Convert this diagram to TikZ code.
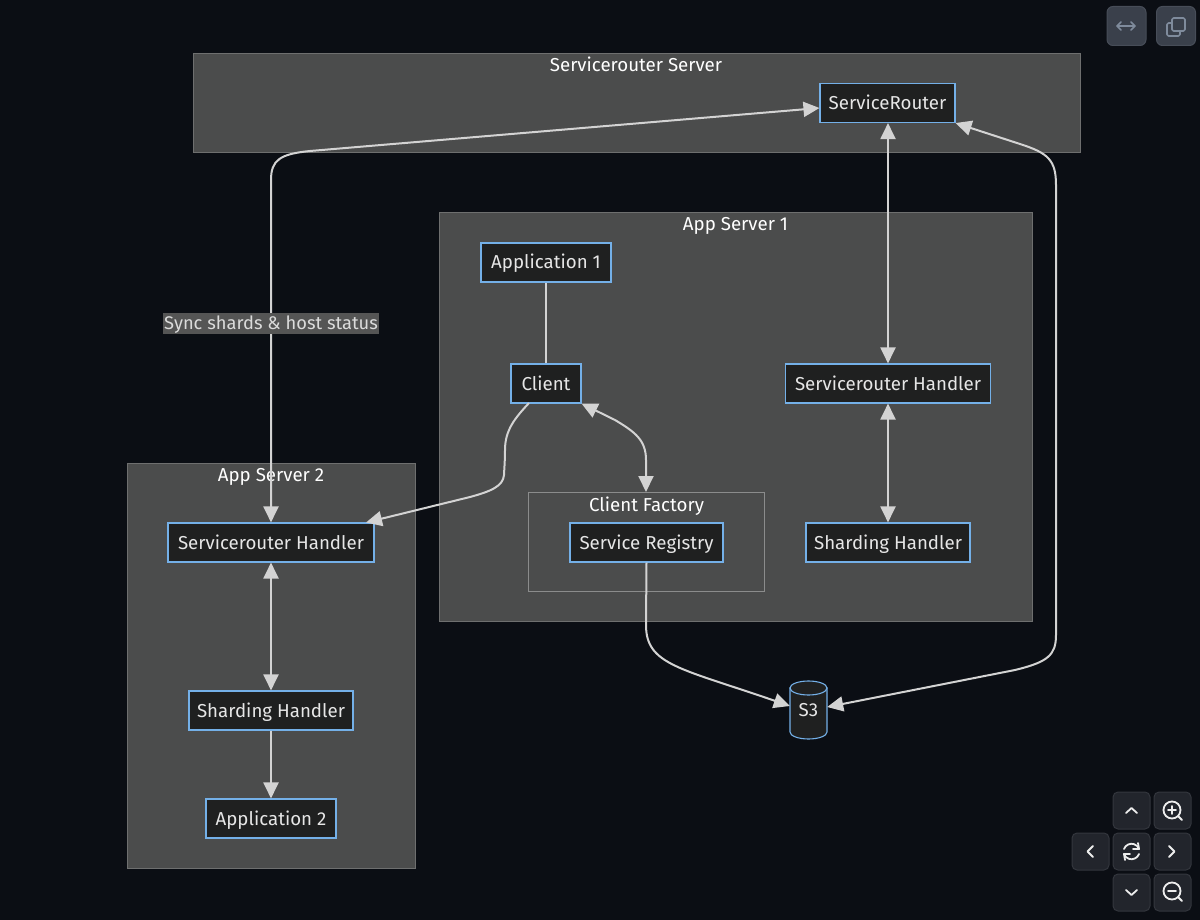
\documentclass[tikz,border=0pt]{standalone}
\usepackage{fontspec}
\setmainfont{Fira Sans}
\usetikzlibrary{arrows.meta}
\definecolor{bgc}{HTML}{0B0E14}
\definecolor{clusterc}{HTML}{4B4C4C}
\definecolor{clusterb}{HTML}{6E6F6F}
\definecolor{boxc}{HTML}{1F2020}
\definecolor{boxb}{HTML}{74B0E8}
\definecolor{linkc}{HTML}{D3D3D3}
\definecolor{textc}{HTML}{E6E6E6}
\definecolor{labelc}{HTML}{555555}
\definecolor{btnA}{HTML}{3A404B}
\definecolor{btnAb}{HTML}{474D58}
\definecolor{iconA}{HTML}{7F8B9C}
\definecolor{btnB}{HTML}{22252C}
\definecolor{btnBb}{HTML}{33363D}
\definecolor{iconB}{HTML}{EDEDED}
\tikzset{
  x=1pt,y=-1pt,
  txt/.style={font=\fontsize{18.7}{20}\selectfont,text=textc,text height=13pt,text depth=0pt},
  cluster/.style={draw=clusterb,fill=clusterc,line width=1pt,inner sep=0pt},
  clustertitle/.style={txt,text=white,inner sep=0pt},
  box/.style={draw=boxb,fill=boxc,line width=1.1pt,txt,inner sep=0pt,minimum height=39pt},
  link/.style={draw=linkc,line width=2pt},
  tip/.style={-{Triangle[length=16pt,width=15pt,fill=linkc]}},
  tips/.style={{Triangle[length=16pt,width=15pt,fill=linkc]}-{Triangle[length=16pt,width=15pt,fill=linkc]}},
  btna/.style={draw=btnAb,fill=btnA,rounded corners=6pt,line width=1pt,minimum size=39pt,inner sep=0pt},
  btnb/.style={draw=btnBb,fill=btnB,rounded corners=5pt,line width=1pt,minimum size=37pt,inner sep=0pt},
  icona/.style={draw=iconA,line width=1.6pt,line cap=round,line join=round},
  iconb/.style={draw=iconB,line width=1.8pt,line cap=round,line join=round},
}
\begin{document}
\begin{tikzpicture}
\useasboundingbox (0,0) rectangle (1200,920);
\fill[bgc] (0,0) rectangle (1200,920);
% clusters
\node[cluster,minimum width=887pt,minimum height=99pt] (cSR) at (636.5,103) {};
\node[clustertitle] (tSR) at (636,65) {Servicerouter Server};
\node[cluster,minimum width=593pt,minimum height=409pt] (cA1) at (735.5,417) {};
\node[clustertitle] (tA1) at (735.5,224) {App Server 1};
\node[cluster,minimum width=288pt,minimum height=405pt] (cA2) at (271,665.5) {};
\node[clustertitle] (tA2) at (271,474.5) {App Server 2};
\node[cluster,draw=clusterb!80!white,minimum width=236pt,minimum height=99pt] (cCF) at (646.5,542) {};
\node[clustertitle] (tCF) at (646.5,504.5) {Client Factory};
% S3 body
\draw[draw=boxb,fill=boxc,line width=1.1pt] (790,688) -- (790,732) arc[start angle=180,end angle=0,x radius=18.5,y radius=7] -- (827,688) -- cycle;
\draw[draw=boxb,fill=boxc,line width=1.1pt] (808.5,688) ellipse[x radius=18.5,y radius=7];
% nodes
\node[box,minimum width=135pt] (sr) at (887.5,103) {ServiceRouter};
\node[box,minimum width=205pt] (srh1) at (888,383.5) {Servicerouter Handler};
\node[box,minimum width=164pt] (sh1) at (888,542.5) {Sharding Handler};
\node[box,minimum width=130pt] (app1) at (546,262.5) {Application 1};
\node[box,minimum width=70pt] (client) at (546,383.5) {Client};
\node[box,minimum width=153pt] (reg) at (646.5,542.5) {Service Registry};
\node[box,minimum width=206pt] (srh2) at (271,542.5) {Servicerouter Handler};
\node[box,minimum width=164pt] (sh2) at (271,710.5) {Sharding Handler};
\node[box,minimum width=130pt] (app2) at (271,818.5) {Application 2};
\node[txt,inner sep=0pt,minimum width=37pt,minimum height=58pt] (s3) at (808.5,710) {S3};
% edges
\draw[link,tips] (srh2.north) -- (271,180) .. controls (271,160) and (280,154) .. (310,151) -- (sr.west |- 0,108);
\draw[link,tips] (srh1.north |- sr.south) -- (srh1.north);
\draw[link,tips] (srh1.south) -- (sh1.north);
\draw[link,tips] (srh2.south) -- (sh2.north);
\draw[link,tip] (sh2.south) -- (app2.north);
\draw[link] (app1.south) -- (client.north);
\draw[link,tips] (client.south east) -- (615,420) .. controls (635,432) and (646,440) .. (646,460) -- (646,492);
\draw[link,tip] (529,403) .. controls (515,418) and (505,430) .. (505,450) .. controls (505,462) and (504,472) .. (504,475) .. controls (503,486) and (492,491) .. (470,497) -- (366,522.5);
\draw[link,tip] (reg.south) -- (646,625) .. controls (646,665) and (680,668) .. (s3.west |- 0,706);
\draw[link,tips] (sr.south east) -- (1020,144) .. controls (1048,153) and (1056,160) .. (1056,185) -- (1056,635) .. controls (1056,655) and (1048,662) .. (1015,670) -- (s3.east |- 0,707);
% edge label
\node[fill=labelc,txt,font=\fontsize{18.3}{20}\selectfont,inner sep=0pt,minimum height=21pt,minimum width=216pt,text=textc!95!black] (lbl) at (271,323) {Sync shards \& host status};
% top buttons
\node[btna] (b1) at (1126.5,26) {};
\node[btna] (b2) at (1176,26) {};
\draw[icona] (1117,26) -- (1135,26) (1121,22) -- (1117,26) -- (1121,30) (1131,22) -- (1135,26) -- (1131,30);
\draw[icona,rounded corners=1.5pt] (1172,18) rectangle (1185,31);
\draw[icona,rounded corners=1.5pt] (1172,23) -- (1167,23) -- (1167,36) -- (1180,36) -- (1180,31);
% bottom buttons
\node[btnb] (up) at (1131.5,810.5) {};
\node[btnb] (zin) at (1172.5,810.5) {};
\node[btnb] (left) at (1090.5,851.5) {};
\node[btnb] (reset) at (1131.5,851.5) {};
\node[btnb] (right) at (1172.5,851.5) {};
\node[btnb] (down) at (1131.5,892.5) {};
\node[btnb] (zout) at (1172.5,892.5) {};
\draw[iconb] (1126,813) -- (1131.5,808) -- (1137,813);
\draw[iconb] (1126,890) -- (1131.5,895) -- (1137,890);
\draw[iconb] (1093,846) -- (1087.5,851.5) -- (1093,857);
\draw[iconb] (1169,846) -- (1174.5,851.5) -- (1169,857);
\draw[iconb] (1172,810) circle[radius=8.5] (1178.5,816.5) -- (1182,820) (1172,806) -- (1172,814) (1168,810) -- (1176,810);
\draw[iconb] (1172,891) circle[radius=8.5] (1178.5,897.5) -- (1182,901) (1168,891) -- (1176,891);
\draw[iconb] (1124,849) arc[start angle=-160,end angle=-20,radius=8] (1139,854) arc[start angle=20,end angle=160,radius=8];
\draw[iconb] (1138,843) -- (1139,849) -- (1133,849) (1125,860) -- (1124,854) -- (1130,854);
\end{tikzpicture}
\end{document}
